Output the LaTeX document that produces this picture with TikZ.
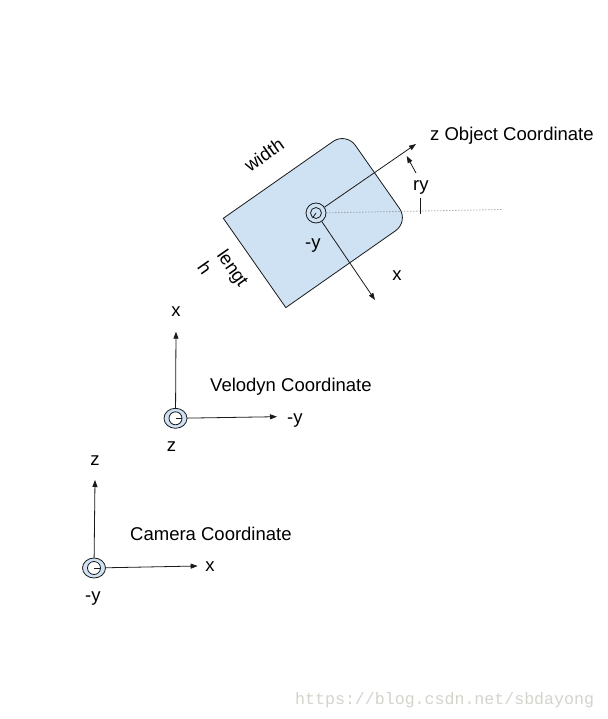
\documentclass[tikz,border=0pt]{standalone}
\usepackage{fontspec}
\setmainfont{Liberation Sans}
\newfontfamily\wmfont{Liberation Mono}
\usetikzlibrary{arrows.meta,shapes.geometric}
\definecolor{boxblue}{HTML}{CFE2F3}
\definecolor{wmgray}{HTML}{D4D4CC}
\definecolor{linecol}{HTML}{1A1A1A}
\begin{document}
\begin{tikzpicture}[x=1pt,y=-1pt,
  lbl/.style={inner sep=0pt, font=\fontsize{18.5}{22}\selectfont, anchor=base},
  axis/.style={draw=linecol, line width=0.8pt, -{Triangle[length=7pt,width=5pt]}},
  outerell/.style={ellipse, draw=linecol, line width=0.8pt, fill=boxblue, inner sep=0pt, minimum width=23pt, minimum height=20pt},
  innerc/.style={circle, draw=linecol, line width=0.8pt, fill=white, inner sep=0pt, minimum size=13pt},
  objouter/.style={circle, draw=linecol, line width=0.8pt, inner sep=0pt, minimum size=20pt},
  objinner/.style={circle, draw=linecol, line width=0.8pt, inner sep=0pt, minimum size=11pt},
  thin/.style={draw=linecol, line width=0.8pt}
]
\useasboundingbox (0,0) rectangle (607,719);
\fill[white] (0,0) rectangle (607,719);

% ---- object box ----
\begin{scope}[shift={(223.3,218.3)},rotate=35]
  \draw[fill=boxblue, draw=linecol, line width=0.8pt]
    (0,0) -- (134,0) .. controls (142.83,0) and (150,7.17) .. (150,16)
    -- (150,93) .. controls (150,101.83) and (142.83,109) .. (134,109)
    -- (0,109) -- cycle;
\end{scope}

% object origin
\node[objouter] (oc) at (316,213) {};
\node[objinner] (oi) at (316,213) {};
\draw[thin] (oi.center) -- (oi.235);
\coordinate (ozT) at (416,144);
\coordinate (oxT) at (375,300);
\coordinate (dotE) at (503,209.5);
\draw[axis] (oc) -- (ozT);
\draw[axis] (oc) -- (oxT);
\draw[draw=gray, line width=0.8pt, dash pattern=on 1pt off 2pt] (oc) -- (dotE);
\coordinate (ryS) at (416,173);
\coordinate (ryE) at (406.7,156);
\draw[axis] (ryS) -- (ryE);
\coordinate (tkA) at (420,198);
\coordinate (tkB) at (420,214);
\draw[thin] (tkA) -- (tkB);

\node[lbl, anchor=base west] (tzobj) at (430,141) {z Object Coordinate};
\node[lbl, anchor=base west] (try) at (413,190.6) {ry};
\node[lbl, anchor=base west] (tomy) at (305,248) {-y};
\node[lbl] (tox) at (397,280) {x};
\node[lbl, anchor=center, rotate=35] (twidth) at (264,155) {width};
\node[lbl, anchor=center, rotate=-55] (tlen) at (231.7,269) {lengt};
\node[lbl, anchor=center, rotate=-55] (th) at (205,268) {h};

% ---- Velodyn ----
\node[outerell] (vo) at (175.5,418.3) {};
\node[innerc] (vi) at (175.5,418.3) {};
\draw[thin] (vi.center) -- (vi.east);
\coordinate (vxT) at (176,331.7);
\coordinate (vyT) at (277,416.7);
\draw[axis] (vo) -- (vxT);
\draw[axis] (vo) -- (vyT);
\node[lbl] (tvx) at (176,316) {x};
\node[lbl, anchor=base west] (tvy) at (287,423.6) {-y};
\node[lbl] (tvz) at (171.5,451) {z};
\node[lbl, anchor=base west] (tvel) at (210,391) {Velodyn Coordinate};

% ---- Camera ----
\node[outerell] (co) at (94,568) {};
\node[innerc] (ci) at (94,568) {};
\draw[thin] (ci.center) -- (ci.east);
\coordinate (czT) at (95,480);
\coordinate (cxT) at (197.7,566);
\draw[axis] (co) -- (czT);
\draw[axis] (co) -- (cxT);
\node[lbl] (tcz) at (95,465) {z};
\node[lbl] (tcx) at (210,571.7) {x};
\node[lbl, anchor=base west] (tcy) at (85,601.5) {-y};
\node[lbl, anchor=base west] (tcam) at (130,540.7) {Camera Coordinate};

% watermark
\node[inner sep=0pt, anchor=base west, text=wmgray, font=\wmfont\fontsize{16.6}{20}\selectfont] (wm) at (295,704) {https://blog.csdn.net/sbdayong};
\end{tikzpicture}
\end{document}
